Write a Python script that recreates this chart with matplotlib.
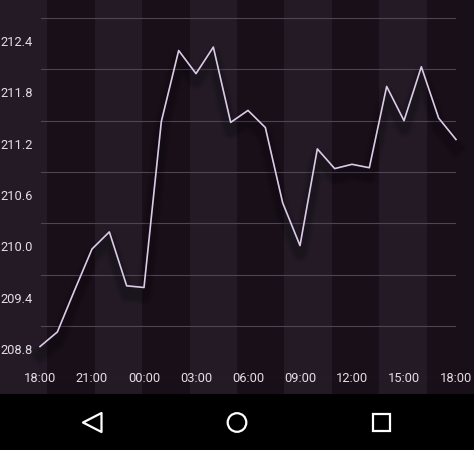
import matplotlib
matplotlib.use("Agg")
import matplotlib.pyplot as plt
import matplotlib.patheffects as pe
import matplotlib.transforms as mtransforms
from matplotlib.patches import Rectangle, Polygon, Circle

# ---- data ----
hours = list(range(25))
values = [208.56, 208.73, 209.22, 209.70, 209.90, 209.27, 209.25, 211.19,
          212.02, 211.75, 212.06, 211.18, 211.32, 211.12, 210.24, 209.74,
          210.87, 210.64, 210.69, 210.65, 211.60, 211.20, 211.83, 211.23,
          210.98]
x_ticks = [0, 3, 6, 9, 12, 15, 18, 21, 24]
x_labels = ["18:00", "21:00", "00:00", "03:00", "06:00", "09:00", "12:00",
            "15:00", "18:00"]
y_ticks = [208.8, 209.4, 210.0, 210.6, 211.2, 211.8, 212.4]
y_labels = ["208.8", "209.4", "210.0", "210.6", "211.2", "211.8", "212.4"]

W, H = 474, 450
fig = plt.figure(figsize=(W / 100, H / 100), dpi=100)

STRIPE_A = "#231a25"
STRIPE_B = "#180f19"
GRID = "#4e4553"
TEXT = "#e3dee5"
LINE = "#dccbe8"

# ---- background decoration (pixel coordinates) ----
bg = fig.add_axes([0, 0, 1, 1])
bg.set_xlim(0, W)
bg.set_ylim(H, 0)
bg.axis("off")
n_stripes = 10
sw = W / n_stripes
for i in range(n_stripes):
    bg.add_patch(Rectangle((i * sw, 0), sw, 394,
                           color=STRIPE_A if i % 2 == 0 else STRIPE_B, lw=0))
bg.add_patch(Rectangle((0, 394), W, H - 394, color="black", lw=0))
# navigation icons
bg.add_patch(Polygon([[101.5, 413], [83, 422.5], [101.5, 432]], closed=True,
                     fill=False, ec="white", lw=1.6, joinstyle="round"))
bg.add_patch(Circle((237, 422.5), 9.3, fill=False, ec="white", lw=1.6))
bg.add_patch(Rectangle((373, 413.5), 17.5, 17.5, fill=False, ec="white", lw=1.6))

# ---- data axes ----
left, right, ybot, ytop = 40, 456, 378, 0
ax = fig.add_axes([left / W, (H - ybot) / H, (right - left) / W, (ybot - ytop) / H])
ax.set_facecolor("none")
ax.set_xlim(0, 24)
px_per_unit = 51.33 / 0.6
ax.set_ylim(208.8 - (ybot - 326) / px_per_unit, 208.8 + (326 - ytop) / px_per_unit)
for s in ax.spines.values():
    s.set_visible(False)

for v in y_ticks:
    ax.axhline(v, xmin=0.002, xmax=1, color=GRID, lw=0.8, zorder=1)

ax.set_xticks([])
ax.set_yticks(y_ticks)
ax.set_yticklabels(y_labels)
ax.tick_params(axis="y", length=0, pad=5, labelsize=9.3, labelcolor=TEXT)
offset = mtransforms.ScaledTranslation(0, -23 / 100, fig.dpi_scale_trans)
for lab in ax.get_yticklabels():
    lab.set_fontfamily("Roboto")
    lab.set_transform(lab.get_transform() + offset)

# x labels centered on the axis line, with line segments between them
xt = ax.get_xaxis_transform()
for t, lab in zip(x_ticks, x_labels):
    ax.text(t, 0, lab, transform=xt, ha="center", va="center",
            fontsize=9.3, color=TEXT, family="Roboto")
gap = 0.88
for a, b in zip(x_ticks[:-1], x_ticks[1:]):
    ax.plot([a + gap, b - gap], [0, 0], transform=xt, color=GRID, lw=0.8,
            solid_capstyle="butt")

shadow = [pe.SimpleLineShadow(offset=(0, -6), shadow_color="black",
                              alpha=0.07, linewidth=w) for w in (12, 9, 6)]
ax.plot(hours, values, color=LINE, lw=1.2, zorder=3, clip_on=False,
        path_effects=shadow + [pe.Normal()])

fig.savefig("out.png", dpi=100)
